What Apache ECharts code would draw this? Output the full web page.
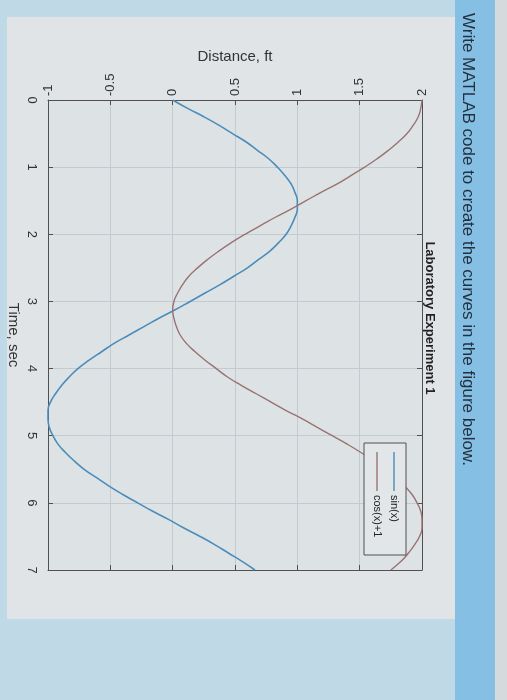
<!DOCTYPE html>
<html>
<head>
<meta charset="utf-8">
<script src="https://cdn.jsdelivr.net/npm/echarts@6/dist/echarts.min.js"></script>
<style>
html, body { margin: 0; padding: 0; background: #bfd9e6; }
#main { width: 507px; height: 700px; }
</style>
</head>
<body>
<div id="main"></div>
<script>
// time samples (sec) and the two curves
var timeSec = [0, 0.125, 0.25, 0.375, 0.5, 0.625, 0.75, 0.875, 1, 1.125, 1.25, 1.375, 1.5, 1.625,
  1.75, 1.875, 2, 2.125, 2.25, 2.375, 2.5, 2.625, 2.75, 2.875, 3, 3.125, 3.25, 3.375, 3.5,
  3.625, 3.75, 3.875, 4, 4.125, 4.25, 4.375, 4.5, 4.625, 4.75, 4.875, 5, 5.125, 5.25, 5.375,
  5.5, 5.625, 5.75, 5.875, 6, 6.125, 6.25, 6.375, 6.5, 6.625, 6.75, 6.875, 7];
var sinValues = [0, 0.12, 0.25, 0.37, 0.48, 0.59, 0.68, 0.77, 0.84, 0.9, 0.95, 0.98, 1.0, 1.0,
  0.98, 0.95, 0.91, 0.85, 0.78, 0.69, 0.6, 0.49, 0.38, 0.26, 0.14, 0.02, -0.11, -0.23, -0.35,
  -0.47, -0.57, -0.67, -0.76, -0.83, -0.89, -0.94, -0.98, -1.0, -1.0, -0.99, -0.96, -0.92, -0.86, -0.79,
  -0.71, -0.61, -0.51, -0.4, -0.28, -0.16, -0.03, 0.09, 0.22, 0.34, 0.45, 0.56, 0.66];
var cosPlusOneValues = [2.0, 1.99, 1.97, 1.93, 1.88, 1.81, 1.73, 1.64, 1.54, 1.43, 1.32, 1.19, 1.07, 0.95,
  0.82, 0.7, 0.58, 0.47, 0.37, 0.28, 0.2, 0.13, 0.08, 0.04, 0.01, 0.0, 0.01, 0.03, 0.06,
  0.11, 0.18, 0.26, 0.35, 0.44, 0.55, 0.67, 0.79, 0.91, 1.04, 1.16, 1.28, 1.4, 1.51, 1.61,
  1.71, 1.79, 1.86, 1.92, 1.96, 1.99, 2.0, 2.0, 1.98, 1.94, 1.89, 1.83, 1.75];
var distanceTicks = [-1, -0.5, 0, 0.5, 1, 1.5, 2];
var timeTicks = [0, 1, 2, 3, 4, 5, 6, 7];
var seriesNames = ["sin(x)", "cos(x)+1"];

var blue = "#4b8cba";
var brown = "#9a7272";
var edge = "#505050";
var font = "'Liberation Sans', Arial, sans-serif";
var CW = -Math.PI / 2;

function pairs(vals) {
  var out = [];
  for (var i = 0; i < timeSec.length; i++) {
    out.push([vals[i], timeSec[i]]);
  }
  return out;
}

var dMin = distanceTicks[0], dMax = distanceTicks[distanceTicks.length - 1];
var dStep = distanceTicks[1] - distanceTicks[0];
var tMin = timeTicks[0], tMax = timeTicks[timeTicks.length - 1];
var tStep = timeTicks[1] - timeTicks[0];

// shared look of the box edges (matlab style: inward ticks on all four sides)
var boxLine = { onZero: false, lineStyle: { color: edge } };
var boxTick = { inside: true, length: 5, lineStyle: { color: edge } };

var chart = echarts.init(document.getElementById("main"));
chart.setOption({
  backgroundColor: "#bfd9e6",
  animation: false,
  textStyle: { fontFamily: font },
  grid: {
    left: 48, right: 85, top: 100, bottom: 130, outerBoundsMode: "none", containLabel: false,
    show: true, backgroundColor: "#dde3e5", borderWidth: 0
  },
  xAxis: [
    {
      type: "value", position: "top", min: dMin, max: dMax, interval: dStep,
      name: "Distance, ft", nameLocation: "middle", nameGap: 36,
      nameTextStyle: { fontSize: 15, color: "#333" },
      axisLine: boxLine, axisTick: boxTick,
      axisLabel: { rotate: -90, fontSize: 13, color: "#333", margin: 4 },
      splitLine: { show: true, lineStyle: { color: "#c3cbd1" } }
    },
    {
      type: "value", position: "bottom", min: dMin, max: dMax, interval: dStep,
      axisLine: boxLine, axisTick: boxTick,
      axisLabel: { show: false }, splitLine: { show: false }
    }
  ],
  yAxis: [
    {
      type: "value", position: "left", inverse: true, min: tMin, max: tMax, interval: tStep,
      name: "Time, sec", nameLocation: "middle", nameGap: 27, nameRotate: -90, nameMoveOverlap: false,
      nameTextStyle: { fontSize: 15, color: "#333" },
      axisLine: boxLine, axisTick: boxTick,
      axisLabel: { rotate: -90, fontSize: 13, color: "#333", margin: 10 },
      splitLine: { show: true, lineStyle: { color: "#c3cbd1" } }
    },
    {
      type: "value", position: "right", inverse: true, min: tMin, max: tMax, interval: tStep,
      axisLine: boxLine, axisTick: boxTick,
      axisLabel: { show: false }, splitLine: { show: false }
    }
  ],
  series: [
    {
      name: seriesNames[0], type: "line", xAxisIndex: 0, yAxisIndex: 0,
      data: pairs(sinValues), smooth: true, showSymbol: false,
      lineStyle: { color: blue, width: 1.6 }, itemStyle: { color: blue }
    },
    {
      name: seriesNames[1], type: "line", xAxisIndex: 0, yAxisIndex: 0,
      data: pairs(cosPlusOneValues), smooth: true, showSymbol: false,
      lineStyle: { color: brown, width: 1.4 }, itemStyle: { color: brown }
    }
  ],
  graphic: [
    // page panel and header band from the photo
    { type: "rect", z: -10, shape: { x: 7, y: 17, width: 448, height: 602 }, style: { fill: "#e0e4e6" } },
    { type: "rect", z: -10, shape: { x: 455, y: 0, width: 40, height: 700 }, style: { fill: "#86bfe4" } },
    { type: "rect", z: -10, shape: { x: 495, y: 0, width: 12, height: 700 }, style: { fill: "#d5dadd" } },
    {
      type: "text", x: 468, y: 13, rotation: CW, z: 10,
      style: { text: "Write MATLAB code to create the curves in the figure below.", font: "17px " + font,
        fill: "#22313f", textAlign: "left", textVerticalAlign: "middle" }
    },
    {
      type: "text", x: 430, y: 318, rotation: CW, z: 10,
      style: { text: "Laboratory Experiment 1", font: "bold 13px " + font,
        fill: "#222", textAlign: "center", textVerticalAlign: "middle" }
    },
    // legend box
    { type: "rect", z: 50, shape: { x: 364, y: 443, width: 42, height: 112 }, style: { fill: "#e2e6e8", stroke: edge, lineWidth: 1 } },
    { type: "line", z: 51, shape: { x1: 394, y1: 452, x2: 394, y2: 491 }, style: { stroke: blue, lineWidth: 1.4 } },
    { type: "line", z: 51, shape: { x1: 377, y1: 452, x2: 377, y2: 491 }, style: { stroke: brown, lineWidth: 1.4 } },
    {
      type: "text", x: 394, y: 495, rotation: CW, z: 52,
      style: { text: seriesNames[0], font: "11px " + font, fill: "#222", textAlign: "left", textVerticalAlign: "middle" }
    },
    {
      type: "text", x: 377, y: 495, rotation: CW, z: 52,
      style: { text: seriesNames[1], font: "11px " + font, fill: "#222", textAlign: "left", textVerticalAlign: "middle" }
    }
  ]
});
</script>
</body>
</html>
